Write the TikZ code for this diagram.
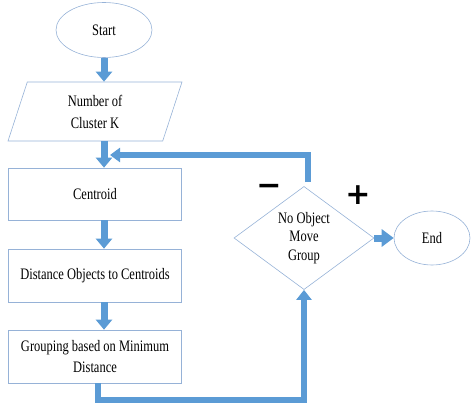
\documentclass[tikz,border=0pt]{standalone}
\usepackage{fontspec}
\setmainfont{Liberation Serif}[FakeStretch=0.78]
\newfontfamily\signfont{DejaVu Sans}
\usepackage{xcolor}
\usetikzlibrary{shapes.geometric, arrows.meta}

\definecolor{flowblue}{RGB}{91,155,213}
\definecolor{edgeblue}{RGB}{150,178,215}

\tikzset{
  outline/.style={draw=edgeblue, line width=0.6pt, inner sep=0pt},
  flowbox/.style={outline, rectangle, minimum width=173pt, minimum height=53pt, align=center, font=\fontsize{16}{21}\selectfont},
  flowend/.style={outline, ellipse, font=\fontsize{16}{18}\selectfont},
  flowarrow/.style={flowblue, line width=7pt, -{Triangle[width=16pt, length=10pt]}},
  looparrow/.style={flowblue, line width=6pt},
  signtext/.style={font=\signfont\bfseries\fontsize{30}{30}\selectfont, inner sep=0pt}
}

\begin{document}
\begin{tikzpicture}[x=1pt, y=-1pt]
  \useasboundingbox (0,0) rectangle (474,420);
  % shapes
  \node[flowend, minimum width=96pt, minimum height=55pt] (start) at (104,30) {Start};
  \node[outline, trapezium, trapezium left angle=60, trapezium right angle=120, trapezium stretches body,
        minimum width=174pt, minimum height=59pt, align=center, font=\fontsize{16}{22}\selectfont]
        (clusters) at (95,111.5) {Number of\\Cluster K};
  \node[flowbox, minimum height=52pt] (centroid) at (95,194) {Centroid};
  \node[flowbox] (distance) at (95,275.5) {Distance Objects to Centroids};
  \node[flowbox] (grouping) at (95,356.5) {Grouping based on Minimum\\Distance};
  \node[outline, diamond, minimum width=140pt, minimum height=102pt, align=center,
        font=\fontsize{16}{18.5}\selectfont] (moved) at (304,238) {No Object\\Move\\Group};
  \node[flowend, minimum width=76pt, minimum height=54pt] (finish) at (432,238) {End};
  \node[signtext] (minus) at (269,190) {−};
  \node[signtext] (plus) at (358,195) {+};
  \coordinate (loopin) at (110,155);

  % connectors
  \draw[flowarrow] (start.south) -- (start.south |- clusters.north);
  \draw[flowarrow] (start.south |- clusters.south) -- (start.south |- centroid.north);
  \draw[flowarrow] (start.south |- centroid.south) -- (start.south |- distance.north);
  \draw[flowarrow] (start.south |- distance.south) -- (start.south |- grouping.north);
  \draw[looparrow, -{Triangle[width=15pt, length=10pt]}] ([xshift=3pt]grouping.south) -- ++(0,17) -| (moved.south);
  \draw[looparrow, -{Triangle[width=14pt, length=10pt]}, shorten <=4pt] ([xshift=4pt]moved.north) |- (loopin);
  \draw[flowarrow, -{Triangle[width=17pt, length=12pt]}] (moved.east) -- (finish.west);
\end{tikzpicture}
\end{document}
